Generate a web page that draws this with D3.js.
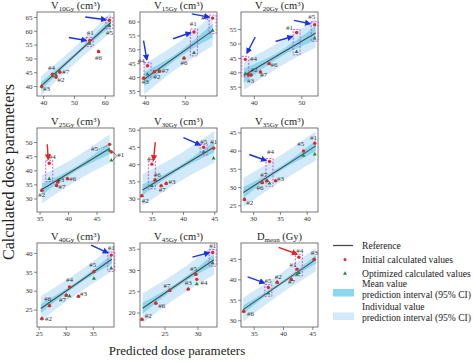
<!DOCTYPE html>
<html>
<head>
<meta charset="utf-8">
<script src="https://cdn.jsdelivr.net/npm/d3@7"></script>
<style>
  body { margin: 0; background: #fff; }
  text { font-family: "Liberation Serif", "DejaVu Serif", serif; }
</style>
</head>
<body>
<svg id="chart" width="474" height="362"></svg>
<script>
// ---- data ----
var titleVar = ["V", "V", "V", "V", "V", "V", "V", "V", "D"];
var titleSub = ["10Gy", "15Gy", "20Gy", "25Gy", "30Gy", "35Gy", "40Gy", "45Gy", "mean"];
var titleUnit = ["cm", "cm", "cm", "cm", "cm", "cm", "cm", "cm", "Gy"];

var xDomains = [[38, 63], [38.7, 58.1], [37.3, 53.5], [34.55, 48.07], [33.1, 45.44],
                [27.75, 42.1], [24.7, 38.9], [21.3, 32.96], [32.84, 45.96]];
var yDomains = [[36.4, 66.8], [33.2, 63.4], [31.8, 60.9], [25.2, 55], [26.1, 50.5],
                [23.15, 46.2], [20.4, 42.6], [16.6, 36.35], [28.35, 48.9]];
var xTickVals = [[40, 50, 60], [40, 50], [40, 50], [35, 40, 45], [35, 40, 45],
                 [30, 35, 40], [25, 30, 35], [25, 30], [35, 40, 45]];
var yTickVals = [[40, 45, 50, 55, 60, 65], [35, 40, 45, 50, 55, 60], [35, 40, 45, 50, 55],
                 [30, 35, 40, 45, 50], [30, 35, 40, 45, 50], [25, 30, 35, 40, 45],
                 [25, 30, 35, 40], [20, 25, 30, 35], [30, 35, 40, 45]];

// cases #1..#7 in each panel
var predicted = [
  [55.1, 44.2, 39.5, 43.0, 61.5, 58.0, 45.4],
  [52.3, 42.3, 39.6, 40.6, 57.0, 49.8, 43.6],
  [49.0, 39.4, 38.9, 38.2, 52.8, 43.2, 41.4],
  [47.6, 35.4, 38.2, 36.7, 47.3, 39.9, 38.0],
  [44.9, 33.4, 37.3, 35.0, 43.3, 35.5, 36.5],
  [41.5, 28.4, 34.2, 33.06, 39.4, 31.7, 32.6],
  [38.4, 25.6, 32.35, 30.7, 35.2, 27.0, 30.1],
  [32.3, 21.6, 28.6, 29.9, 29.75, 23.7, 25.8],
  [42.4, 39.0, 45.3, 42.7, 37.5, 33.3, 41.4]
];
var initial = [
  [56.5, 43.2, 39.8, 44.3, 63.8, 52.5, 45.0],
  [56.2, 41.9, 39.6, 44.1, 61.2, 46.8, 42.1],
  [53.8, 39.1, 39.1, 44.5, 56.5, 43.0, 40.1],
  [46.5, 32.9, 35.8, 42.5, 49.2, 37.0, 34.6],
  [44.6, 30.8, 34.4, 40.0, 44.9, 35.4, 33.7],
  [42.0, 26.6, 31.7, 37.0, 39.9, 31.2, 31.7],
  [39.4, 22.6, 28.5, 31.0, 35.0, 26.0, 28.8],
  [34.1, 18.4, 25.5, 27.8, 29.0, 22.2, 25.2],
  [42.5, 39.3, 44.9, 45.4, 38.0, 32.2, 40.0]
];
var optimized = [
  [55.4, 44.0, 40.0, 43.6, 61.8, 52.5, 45.3],
  [48.7, 41.9, 39.6, 41.0, 56.7, 46.8, 42.1],
  [47.1, 39.1, 39.1, 39.5, 51.8, 43.0, 40.1],
  [43.5, 32.9, 35.8, 37.0, 47.0, 37.0, 34.6],
  [41.7, 30.8, 34.4, 33.7, 43.5, 35.4, 33.7],
  [39.0, 26.6, 31.7, 31.0, 38.6, 31.2, 31.7],
  [35.9, 22.6, 28.5, 28.6, 33.2, 26.0, 28.8],
  [31.6, 18.4, 25.5, 26.7, 29.0, 22.2, 25.2],
  [41.2, 39.3, 44.9, 41.6, 36.6, 32.2, 40.0]
];

// reference line [xStart, yStart, xEnd, yEnd]
var fitLines = [
  [39.3, 40.0, 62.0, 63.0], [39.75, 39.2, 57.0, 56.7], [37.9, 38.9, 53.0, 53.6],
  [35.4, 33.2, 47.3, 47.7], [33.5, 32.5, 45.0, 45.0], [28.2, 28.5, 41.7, 41.3],
  [25.4, 25.3, 38.5, 38.3], [21.7, 21.0, 32.5, 32.4], [33.2, 32.6, 45.6, 44.9]
];
// half widths of the intervals [at the ends, in the middle]
var meanHalf = [[1.5, 0.6], [2.5, 1.0], [2.5, 1.0], [2.0, 0.8], [1.6, 0.6],
                [1.5, 0.6], [1.2, 0.5], [1.3, 0.5], [1.0, 0.4]];
var indivHalf = [[3.5, 3.0], [5.5, 4.5], [5.0, 4.3], [5.0, 4.3], [4.6, 4.0],
                 [4.0, 3.6], [3.2, 2.8], [3.5, 3.0], [2.9, 2.5]];

// cases framed by a dashed box
var boxed = [[0, 4], [0, 3, 4], [0, 3, 4], [3], [3, 4], [3], [0], [0], [3, 4]];

// ---- layout ----
var colLeft = [37, 140, 241];
var rowTop = [12, 128, 243];
var plotW = 77, plotH = 84;

var redColour = "#e3262c", greenColour = "#1f8a3c";
var meanColour = "#8ad6ef", indivColour = "#d2e9f9";
var arrowColours = { b: "#1a32e6", r: "#e8221e" };

// label offsets [dx, dy] from the initial value, px
var labelShift = [
  [[0.7, -7.7], [5, 3], [5, 2], [-1, -6], [0, 13], [0, 6], [6, 0]],
  [[-0.7, -8.3], [2.7, 4.7], [1.7, 4.3], [-6.3, -4.7], [-8, 0], [0, 5], [5.7, 0]],
  [[-7, -4], [3.3, -5], [2, 5.7], [8.3, 0], [-3, -8], [5, 1], [3.3, 3.3]],
  [[9.5, 3.5], [0, 4.5], [3, -2], [3, -6], [-15, 5], [5.3, 0], [5.3, 1.7]],
  [[0, -6.7], [3.3, 5.3], [5.7, -1], [-1, -5.5], [0, -5.7], [2.3, -5], [1, 4.3]],
  [[-1.3, -5.7], [5.3, 4], [5, -2.3], [1, -9.3], [-2.7, -6.7], [-2.3, 5.7], [-3.3, -5.7]],
  [[0, -6.7], [6.7, 0], [5, -2.7], [0, -7.3], [-1.3, -6.7], [-1.7, -7.3], [-3.7, 4.3]],
  [[0, -6.7], [6.3, -3.3], [0, -6], [7.3, 3.3], [-2.3, -5], [6, 2.7], [-2.7, -4]],
  [[-4, -4.3], [1, -5.7], [0, -6.7], [1, -6.7], [-0.3, -6.7], [6.7, 2.3], [0.3, 3]]
];
// arrows: [case, colour, tip dx, tip dy (from point), tail dx, tail dy (from tip)]
var arrowLayout = [
  [[4, "b", -3.5, -0.6, -20.6, -2.7], [0, "b", -3.5, 0, -17.3, -3]],
  [[4, "b", -3.5, -1, -17.3, -3.3], [0, "b", -3.5, 0.7, -17.3, 6], [3, "b", -0.7, -6, -3.3, -19]],
  [[4, "b", -4.7, -1, -16, -3.3], [0, "b", -4.3, 4, -16.7, 5], [3, "b", 1.7, -6.3, 8.3, -16]],
  [[3, "r", -1, -4, -1, -15]],
  [[3, "r", 1.7, -4, 1.7, -18], [4, "b", -3.5, -2.3, -16.7, -7.3]],
  [[3, "b", -3.5, -1, -16.7, -6]],
  [[0, "b", -3.5, -2.3, -16.7, -7.7]],
  [[0, "b", -3.5, 0, -16.7, 4.6]],
  [[3, "r", -2, -3.3, -18.3, -6.7], [4, "b", -4, -4.6, -16.7, -6]]
];

var svg = d3.select("#chart");
var defs = svg.append("defs");

// arrow heads
Object.keys(arrowColours).forEach(function (key) {
  defs.append("marker")
    .attr("id", "head-" + key)
    .attr("viewBox", "0 0 10 10")
    .attr("refX", 8).attr("refY", 5)
    .attr("markerWidth", 4.5).attr("markerHeight", 4.5)
    .attr("orient", "auto")
    .append("path")
    .attr("d", "M0,0 L10,5 L0,10 z")
    .attr("fill", arrowColours[key]);
});

var triangle = d3.symbol().type(d3.symbolTriangle).size(7);

titleSub.forEach(function (sub, i) {
  var col = i % 3, row = Math.floor(i / 3);
  var g = svg.append("g")
    .attr("transform", `translate(${colLeft[col]}, ${rowTop[row]})`);

  var x = d3.scaleLinear().domain(xDomains[i]).range([0, plotW]);
  var y = d3.scaleLinear().domain(yDomains[i]).range([plotH, 0]);

  defs.append("clipPath").attr("id", "clip" + i)
    .append("rect").attr("width", plotW).attr("height", plotH);
  var inner = g.append("g").attr("clip-path", `url(#clip${i})`);

  // intervals around the reference line
  var f = fitLines[i];
  var fitAt = d3.scaleLinear().domain([f[0], f[2]]).range([f[1], f[3]]);
  var bandX = [f[0], (f[0] + f[2]) / 2, f[2]];
  function band(h) {
    return d3.area()
      .curve(d3.curveNatural)
      .x(d => x(d))
      .y0((d, k) => y(fitAt(d) - h[k === 1 ? 1 : 0]))
      .y1((d, k) => y(fitAt(d) + h[k === 1 ? 1 : 0]));
  }
  inner.append("path").datum(bandX).attr("d", band(indivHalf[i])).attr("fill", indivColour);
  inner.append("path").datum(bandX).attr("d", band(meanHalf[i])).attr("fill", meanColour);

  inner.append("line")
    .attr("x1", x(f[0])).attr("y1", y(f[1]))
    .attr("x2", x(f[2])).attr("y2", y(f[3]))
    .attr("stroke", "#4a4a4a").attr("stroke-width", 1.1);

  // frame
  g.append("rect").attr("width", plotW).attr("height", plotH)
    .attr("fill", "none").attr("stroke", "#555").attr("stroke-width", 0.8);

  // axes
  var xAxis = g.append("g")
    .attr("transform", `translate(0, ${plotH})`)
    .call(d3.axisBottom(x).tickValues(xTickVals[i]).tickSize(3).tickPadding(1.5));
  var yAxis = g.append("g")
    .call(d3.axisLeft(y).tickValues(yTickVals[i]).tickSize(3).tickPadding(1.5));
  [xAxis, yAxis].forEach(function (a) {
    a.attr("font-family", "Liberation Serif, serif");
    a.select(".domain").remove();
    a.selectAll("line").attr("stroke", "#555").attr("stroke-width", 0.7);
    a.selectAll("text").attr("font-size", 7).attr("fill", "#333");
  });

  // title
  var title = g.append("text")
    .attr("x", plotW / 2).attr("y", -3.5)
    .attr("text-anchor", "middle")
    .attr("font-size", 10.5).attr("fill", "#222");
  title.append("tspan").text(titleVar[i]);
  title.append("tspan").attr("font-size", 7).attr("dy", 2).text(sub);
  if (titleUnit[i] === "cm") {
    title.append("tspan").attr("dy", -2).text(" (cm");
    title.append("tspan").attr("font-size", 6.5).attr("dy", -2.8).text("3");
    title.append("tspan").attr("dy", 2.8).text(")");
  } else {
    title.append("tspan").attr("dy", -2).text(" (" + titleUnit[i] + ")");
  }

  var px = predicted[i], yi = initial[i], yo = optimized[i];

  // dashed boxes
  boxed[i].forEach(function (k) {
    var top = y(Math.max(yi[k], yo[k])) - 3;
    var bot = y(Math.min(yi[k], yo[k])) + 3;
    g.append("rect")
      .attr("x", x(px[k]) - 3.5).attr("y", top)
      .attr("width", 7).attr("height", bot - top)
      .attr("fill", "none").attr("stroke", "#c84ad8")
      .attr("stroke-width", 0.9).attr("stroke-dasharray", "2,1.4");
  });

  // optimized values (green) under initial values (red)
  g.selectAll(".opt").data(px).enter().append("path")
    .attr("d", triangle)
    .attr("transform", (d, k) => `translate(${x(d)}, ${y(yo[k])})`)
    .attr("fill", greenColour);
  g.selectAll(".init").data(px).enter().append("circle")
    .attr("cx", d => x(d)).attr("cy", (d, k) => y(yi[k]))
    .attr("r", 1.7).attr("fill", redColour);

  // case labels
  g.selectAll(".lab").data(px).enter().append("text")
    .attr("x", (d, k) => x(d) + labelShift[i][k][0])
    .attr("y", (d, k) => y(yi[k]) + labelShift[i][k][1])
    .attr("text-anchor", "middle").attr("dominant-baseline", "central")
    .attr("font-size", 7).attr("fill", "#333")
    .text((d, k) => "#" + (k + 1));

  // panel V25Gy: bracket for #1, leader for #5
  if (i === 3) {
    var lx = x(px[0]) + labelShift[3][0][0] - 4, ly = y(yi[0]) + labelShift[3][0][1];
    [yi[0], yo[0]].forEach(function (v) {
      g.append("line").attr("x1", lx).attr("y1", ly)
        .attr("x2", x(px[0]) + 1.5).attr("y2", y(v))
        .attr("stroke", "#333").attr("stroke-width", 0.6);
    });
    var mx = x(px[4]) + labelShift[3][4][0] + 4, my = y(yi[4]) + labelShift[3][4][1];
    g.append("line").attr("x1", mx).attr("y1", my)
      .attr("x2", x(px[4]) - 2).attr("y2", y(yi[4]) + 1)
      .attr("stroke", "#333").attr("stroke-width", 0.6).attr("stroke-dasharray", "1.5,1");
  }

  // arrows
  arrowLayout[i].forEach(function (a) {
    var tx = x(px[a[0]]) + a[2], ty = y(yi[a[0]]) + a[3];
    g.append("line")
      .attr("x1", tx + a[4]).attr("y1", ty + a[5])
      .attr("x2", tx).attr("y2", ty)
      .attr("stroke", arrowColours[a[1]]).attr("stroke-width", 1.4)
      .attr("marker-end", `url(#head-${a[1]})`);
  });
});

// axis titles
svg.append("text")
  .attr("transform", "translate(14, 172) rotate(-90)")
  .attr("text-anchor", "middle")
  .attr("font-size", 16).attr("fill", "#222")
  .text("Calculated dose parameters");
svg.append("text")
  .attr("x", 177).attr("y", 355)
  .attr("text-anchor", "middle")
  .attr("font-size", 13).attr("fill", "#222")
  .text("Predicted dose parameters");

// legend
var legend = svg.append("g").attr("font-size", 9.6).attr("fill", "#222");
legend.append("line").attr("x1", 333).attr("x2", 353).attr("y1", 245.5).attr("y2", 245.5)
  .attr("stroke", "#4a4a4a").attr("stroke-width", 1.3);
legend.append("text").attr("x", 362).attr("y", 249).text("Reference");
legend.append("circle").attr("cx", 345).attr("cy", 259.5).attr("r", 1.5).attr("fill", redColour);
legend.append("text").attr("x", 362).attr("y", 262.8).text("Initial calculated values");
legend.append("path").attr("d", triangle).attr("transform", "translate(345, 273.5)").attr("fill", greenColour);
legend.append("text").attr("x", 362).attr("y", 276.8).text("Optimized calculated values");
legend.append("rect").attr("x", 333).attr("y", 289).attr("width", 21).attr("height", 7.5).attr("fill", meanColour);
legend.append("text").attr("x", 362).attr("y", 287).text("Mean value");
legend.append("text").attr("x", 362).attr("y", 298).text("prediction interval (95% CI)");
legend.append("rect").attr("x", 333).attr("y", 312.5).attr("width", 21).attr("height", 7.5).attr("fill", indivColour);
legend.append("text").attr("x", 362).attr("y", 310).text("Individual value");
legend.append("text").attr("x", 362).attr("y", 321).text("prediction interval (95% CI)");
</script>
</body>
</html>
